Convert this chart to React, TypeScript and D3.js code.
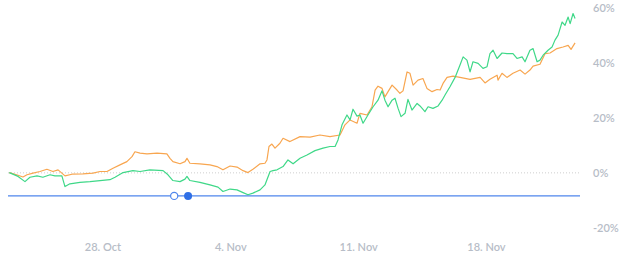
import React from "react";
import * as d3 from "d3";

const BASE = Date.UTC(2019, 9, 28);
const DAY = 86400000;

const domainDays = [-5.2, 26.12];
const tickDays = [0, 7, 14, 21];
const yTicks = [60, 40, 20, 0, -20];
const flatValue = -8.4;
const markerDays = [3.9, 4.66];

const orangeDays = [-5.13, -4.73, -4.38, -4.16, -3.83, -3.45, -3.07, -2.74, -2.46, -2.25, -2.08, -1.7, -1.1, -0.55, -0.16, 0.22, 0.55, 0.93, 1.31, 1.59, 1.75, 2.03, 2.41, 2.96, 3.5, 3.67, 3.83, 4.22, 4.49, 4.6, 4.76, 5.31, 5.86, 6.24, 6.57, 6.96, 7.34, 7.67, 7.94, 8.21, 8.6, 8.87, 8.98, 9.09, 9.25, 9.42, 9.69, 9.86, 10.24, 10.79, 11.34, 11.88, 12.43, 12.98, 13.25, 13.53, 13.91, 14.07, 14.46, 14.73, 14.9, 15.06, 15.28, 15.44, 15.61, 15.83, 16.1, 16.26, 16.43, 16.65, 16.81, 16.98, 17.25, 17.52, 17.74, 18.02, 18.29, 18.46, 18.62, 18.84, 19.17, 19.55, 20.1, 20.65, 20.92, 21.19, 21.58, 21.63, 21.85, 22.12, 22.45, 22.84, 23.11, 23.38, 23.55, 23.93, 24.21, 24.48, 24.86, 25.19, 25.47, 25.63, 25.85];
const orangeValues = [0.1, -0.7, -1.5, -0.7, -0.1, 0.5, 1.3, 0.5, 1.1, -0.1, -1.1, -0.5, -0.4, -0.1, 0.5, 0.5, 1.7, 2.9, 4.1, 5.9, 7.7, 7.2, 6.9, 7.2, 6.9, 5.3, 4.1, 3.3, 4.1, 5.3, 3.5, 3.3, 2.9, 2.3, 1.1, 2.5, 2.1, 0.8, 0.1, 1.3, 3.3, 3.5, 4.7, 9.6, 10.5, 9.0, 10.8, 12.6, 11.4, 13.2, 13.0, 13.8, 13.2, 13.8, 17.5, 19.3, 18.1, 21.7, 21.1, 24.1, 30.2, 31.6, 30.8, 27.7, 29.6, 32.0, 30.2, 29.0, 29.9, 36.8, 36.3, 32.0, 33.8, 34.4, 30.8, 29.6, 30.4, 30.2, 32.6, 34.8, 35.3, 34.8, 34.1, 34.8, 32.8, 34.1, 35.6, 33.8, 36.3, 34.8, 36.3, 37.5, 36.0, 37.5, 38.9, 39.6, 43.5, 43.7, 45.3, 45.9, 46.5, 45.0, 47.4];

const greenDays = [-5.13, -4.65, -4.27, -4.0, -3.61, -3.29, -2.9, -2.63, -2.25, -2.08, -1.81, -1.26, -0.71, -0.16, 0.38, 0.66, 1.1, 1.64, 2.03, 2.57, 3.29, 3.56, 3.83, 4.22, 4.49, 4.6, 4.76, 5.31, 5.86, 6.3, 6.57, 6.96, 7.34, 7.67, 7.94, 8.21, 8.6, 8.87, 9.15, 9.31, 9.53, 9.86, 10.13, 10.41, 10.79, 11.17, 11.61, 12.05, 12.43, 12.71, 12.87, 13.09, 13.36, 13.53, 13.69, 13.91, 14.07, 14.24, 14.51, 14.79, 15.06, 15.28, 15.44, 15.61, 15.83, 15.99, 16.16, 16.32, 16.54, 16.7, 16.92, 17.2, 17.36, 17.63, 17.8, 18.07, 18.35, 18.57, 18.73, 19.0, 19.28, 19.55, 19.72, 19.93, 20.1, 20.26, 20.54, 20.81, 21.03, 21.19, 21.36, 21.58, 21.85, 22.12, 22.45, 22.67, 22.95, 23.11, 23.38, 23.55, 23.77, 23.93, 24.1, 24.37, 24.59, 24.75, 24.92, 25.14, 25.3, 25.47, 25.58, 25.74, 25.85];
const greenValues = [0.1, -1.3, -3.2, -1.6, -1.1, -1.6, -0.7, -1.1, -1.1, -5.0, -4.0, -3.5, -3.2, -2.8, -2.5, -1.6, 0.1, 0.8, 0.5, 1.1, 0.8, -0.7, -2.8, -3.2, -2.3, -1.3, -2.8, -3.5, -4.4, -5.2, -6.8, -5.9, -6.2, -7.2, -8.0, -7.4, -6.2, -4.4, 0.5, 0.8, 1.1, 2.3, 4.7, 3.3, 5.3, 6.5, 8.1, 9.0, 9.6, 9.6, 12.0, 17.5, 21.1, 19.3, 23.2, 20.7, 21.1, 18.1, 21.1, 24.1, 26.5, 29.9, 26.5, 24.1, 26.5, 27.2, 23.5, 20.5, 21.7, 26.8, 22.9, 25.3, 24.4, 22.3, 24.1, 23.5, 24.4, 26.5, 28.4, 31.4, 34.8, 39.3, 42.3, 41.1, 36.8, 40.5, 39.9, 38.1, 38.7, 43.5, 44.7, 41.7, 43.7, 43.5, 43.5, 41.7, 42.3, 40.5, 44.7, 45.3, 40.5, 41.1, 42.9, 44.7, 45.9, 48.4, 50.2, 55.0, 53.8, 56.8, 54.4, 58.1, 56.3];

const toDate = (d: number) => new Date(BASE + d * DAY);

export default function App() {
  const width = 624;
  const height = 267;
  const x = d3
    .scaleUtc()
    .domain(domainDays.map(toDate))
    .range([8, 580]);
  const y = d3.scaleLinear().domain([60, -20]).range([8.3, 227.7]);

  const line = d3
    .line<[number, number]>()
    .x((d) => x(toDate(d[0])))
    .y((d) => y(d[1]))
    .curve(d3.curveLinear);

  const orange = orangeDays.map((d, i) => [d, orangeValues[i]] as [number, number]);
  const green = greenDays.map((d, i) => [d, greenValues[i]] as [number, number]);
  const fmt = d3.utcFormat("%-d. %b");
  const font = "Lato, 'Open Sans', sans-serif";

  return (
    <svg
      width={width}
      height={height}
      style={{ position: "absolute", left: 0, top: 0, background: "#fff" }}
    >
      <line
        x1={x.range()[0]}
        x2={x.range()[1]}
        y1={y(0)}
        y2={y(0)}
        stroke="#cfcfcf"
        strokeWidth={1}
        strokeDasharray="1,2"
      />
      <line
        x1={x.range()[0]}
        x2={x.range()[1]}
        y1={y(flatValue)}
        y2={y(flatValue)}
        stroke="#4f86ec"
        strokeWidth={1.3}
      />
      <path d={line(orange) || ""} fill="none" stroke="#f8a650" strokeWidth={1.2} strokeLinejoin="round" />
      <path d={line(green) || ""} fill="none" stroke="#3fd888" strokeWidth={1.2} strokeLinejoin="round" />
      <circle cx={x(toDate(markerDays[0]))} cy={y(flatValue)} r={3.6} fill="#fff" stroke="#4f86ec" strokeWidth={1.2} />
      <circle cx={x(toDate(markerDays[1]))} cy={y(flatValue)} r={4} fill="#2f6fe6" />
      {yTicks.map((t) => (
        <text
          key={t}
          x={593}
          y={y(t)}
          dy="0.35em"
          fontFamily={font}
          fontSize={11}
          fontWeight={600}
          fill="#b7bdc7"
        >
          {t}%
        </text>
      ))}
      {tickDays.map((t) => (
        <text
          key={t}
          x={x(toDate(t))}
          y={247.5}
          dy="0.35em"
          textAnchor="middle"
          fontFamily={font}
          fontSize={11}
          fontWeight={600}
          fill="#b7bdc7"
        >
          {fmt(toDate(t))}
        </text>
      ))}
    </svg>
  );
}
